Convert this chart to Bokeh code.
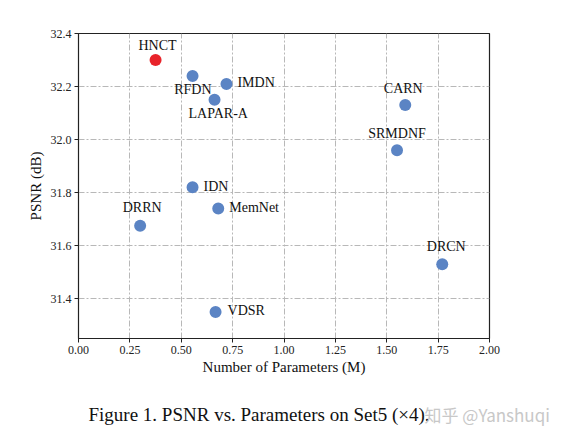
from bokeh.plotting import figure
from bokeh.models import ColumnDataSource, FixedTicker, NumeralTickFormatter, Range1d
from bokeh.layouts import column
from bokeh.embed import file_html
from bokeh.resources import INLINE
from bokeh.core.properties import value

methods = ["HNCT", "RFDN", "IMDN", "LAPAR-A", "CARN", "SRMDNF", "IDN", "MemNet", "DRRN", "DRCN", "VDSR"]
params = [0.375, 0.555, 0.72, 0.662, 1.59, 1.55, 0.555, 0.68, 0.30, 1.77, 0.667]
psnr = [32.30, 32.24, 32.21, 32.15, 32.13, 31.96, 31.82, 31.74, 31.675, 31.53, 31.35]
x_ticks = [0.0, 0.25, 0.5, 0.75, 1.0, 1.25, 1.5, 1.75, 2.0]
y_ticks = [31.4, 31.6, 31.8, 32.0, 32.2, 32.4]
caption = "Figure 1. PSNR vs. Parameters on Set5 (×4)."
watermark = "知乎 @Yanshuqi"

# label placement in screen pixels (style, not data): dx, dy(up), align
label_style = {
    "HNCT": (2, 15, "center"),
    "RFDN": (19, -14, "right"),
    "IMDN": (11, 1, "left"),
    "LAPAR-A": (-26, -14, "left"),
    "CARN": (-2, 17, "center"),
    "SRMDNF": (0, 17, "center"),
    "IDN": (11, 1, "left"),
    "MemNet": (11, 1, "left"),
    "DRRN": (2, 18, "center"),
    "DRCN": (4, 18, "center"),
    "VDSR": (12, 1, "left"),
}

colors = ["#e8232a" if m == "HNCT" else "#5b84c4" for m in methods]
src = ColumnDataSource(dict(
    x=params, y=psnr, name=methods, color=colors,
    xo=[label_style[m][0] for m in methods],
    yo=[-label_style[m][1] for m in methods],
    align=[label_style[m][2] for m in methods],
))

p = figure(width=565, height=390, output_backend="svg", toolbar_location=None,
           x_range=Range1d(0, 2.0), y_range=Range1d(31.25, 32.4),
           min_border_left=78, min_border_right=76, min_border_top=33, min_border_bottom=52)
p.frame_align = False

serif = "Liberation Serif"
p.scatter("x", "y", source=src, size=12, color="color", line_color=None)
p.text("x", "y", text="name", source=src, x_offset="xo", y_offset="yo", text_align="align",
       text_baseline="middle", text_font=value(serif), text_font_size="14px", text_color="#111111")

p.xaxis.ticker = FixedTicker(ticks=x_ticks)
p.yaxis.ticker = FixedTicker(ticks=y_ticks)
p.xaxis.formatter = NumeralTickFormatter(format="0.00")
p.yaxis.formatter = NumeralTickFormatter(format="0.0")
for ax in (p.xaxis, p.yaxis):
    ax.major_label_text_font = serif
    ax.major_label_text_font_size = "12px"
    ax.major_label_text_color = "#222222"
    ax.major_label_standoff = 3
    ax.axis_label_text_font = serif
    ax.axis_label_text_font_size = "15px"
    ax.axis_label_text_font_style = "normal"
    ax.axis_label_text_color = "#111111"
    ax.minor_tick_line_color = None
    ax.major_tick_in = 0
    ax.major_tick_out = 4
    ax.axis_line_color = "#222222"
    ax.major_tick_line_color = "#222222"
p.xaxis.axis_label = "Number of Parameters (M)"
p.yaxis.axis_label = "PSNR (dB)"
p.xaxis.axis_label_standoff = 2
p.yaxis.axis_label_standoff = 4

p.grid.grid_line_color = "#b8b8b8"
p.grid.grid_line_dash = "6 2 2 2"
p.grid.grid_line_width = 1
p.outline_line_color = "#222222"
p.outline_line_width = 1.2
p.outline_line_alpha = 1

# caption strip below the chart (pixel-scaled ranges)
cap = figure(width=565, height=47, output_backend="svg", toolbar_location=None,
             x_range=Range1d(0, 565), y_range=Range1d(0, 47),
             min_border=0, x_axis_type=None, y_axis_type=None)
cap.frame_align = False
cap.grid.visible = False
cap.outline_line_color = None
cap_src = ColumnDataSource(dict(x=[88], y=[23], t=[caption]))
wm_src = ColumnDataSource(dict(x=[424], y=[23], t=[watermark]))
cap.text("x", "y", text="t", source=cap_src, text_baseline="alphabetic",
         text_font=value(serif), text_font_size="19px", text_color="#111111")
cap.text("x", "y", text="t", source=wm_src, text_baseline="alphabetic",
         text_font=value("Noto Sans CJK SC"), text_font_size="17px", text_color="#c8c8c8")

open("out.html", "w").write(file_html(column(p, cap, spacing=0), INLINE))
